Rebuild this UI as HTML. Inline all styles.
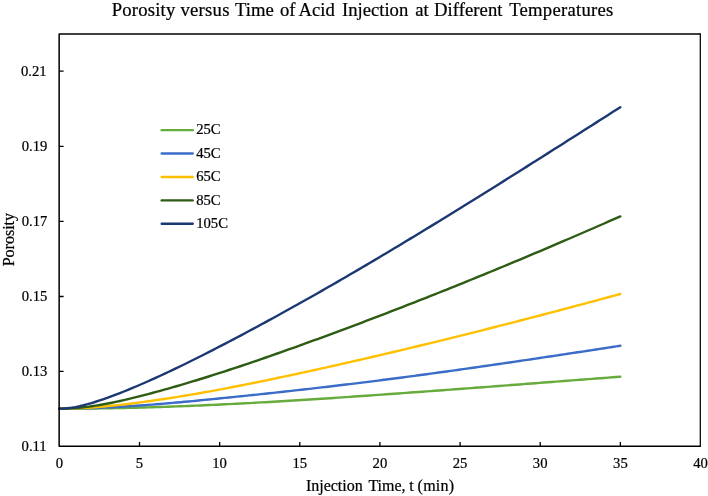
<!DOCTYPE html>
<html><head><meta charset="utf-8"><title>Porosity versus Time of Acid Injection at Different Temperatures</title>
<style>html,body{margin:0;padding:0;background:#fff}svg{display:block}</style></head>
<body>
<svg width="708" height="496" viewBox="0 0 708 496">
<rect width="708" height="496" fill="#fff"/>
<g font-family="&quot;Liberation Serif&quot;, serif" fill="#000" stroke="#000" stroke-width="0.22">
<text y="15.8" font-size="18.67"><tspan x="111.74" letter-spacing="0.2">Porosity</tspan> <tspan x="180.40" letter-spacing="0.28">versus</tspan> <tspan x="234.96">Time</tspan> <tspan x="280.02">of</tspan> <tspan x="298.58">Acid</tspan> <tspan x="341.98">Injection</tspan> <tspan x="415.14">at</tspan> <tspan x="433.93" letter-spacing="0.07">Different</tspan> <tspan x="509.20" letter-spacing="0.26">Temperatures</tspan></text>
<text y="490.9" font-size="16"><tspan x="305.90">Injection</tspan> <tspan x="368.40">Time,</tspan> <tspan x="409.25">t</tspan> <tspan x="417.57" letter-spacing="0.25">(min)</tspan></text>
<text transform="translate(13.5,266.3) rotate(-90)" font-size="16">Porosity</text>
<g font-size="14.67" text-anchor="end">
<text x="46.7" y="75.6">0.21</text>
<text x="47.3" y="151.0">0.19</text>
<text x="47.3" y="225.9">0.17</text>
<text x="47.3" y="301.1">0.15</text>
<text x="47.3" y="376.0">0.13</text>
<text x="46.7" y="450.8">0.11</text>
</g>
<g font-size="14.67" text-anchor="middle">
<text x="59.4" y="467.6">0</text>
<text x="139.5" y="467.6">5</text>
<text x="219.6" y="467.6">10</text>
<text x="299.8" y="467.6">15</text>
<text x="379.9" y="467.6">20</text>
<text x="460.1" y="467.6">25</text>
<text x="540.2" y="467.6">30</text>
<text x="620.4" y="467.6">35</text>
<text x="700.5" y="467.6">40</text>
</g>
<g font-size="14.67">
<text x="196.2" y="134.45">25C</text>
<text x="196.2" y="157.91">45C</text>
<text x="196.2" y="181.37">65C</text>
<text x="196.2" y="204.83">85C</text>
<text x="196.2" y="228.29">105C</text>
</g>
</g>
<g fill="none" stroke-width="2.4" stroke-linecap="round" stroke-linejoin="round">
<path d="M59.4,408.70 L63.4,408.70 L67.4,408.69 L71.5,408.67 L75.5,408.65 L79.5,408.63 L83.6,408.60 L87.6,408.56 L91.6,408.51 L95.7,408.47 L99.7,408.41 L103.7,408.35 L107.8,408.29 L111.8,408.21 L115.8,408.14 L119.9,408.06 L123.9,407.97 L128.0,407.88 L132.0,407.78 L136.0,407.68 L140.1,407.57 L144.1,407.46 L148.1,407.35 L152.2,407.23 L156.2,407.10 L160.2,406.97 L164.3,406.84 L168.3,406.70 L172.3,406.55 L176.4,406.41 L180.4,406.25 L184.5,406.10 L188.5,405.94 L192.5,405.77 L196.6,405.60 L200.6,405.43 L204.6,405.25 L208.7,405.07 L212.7,404.89 L216.7,404.70 L220.8,404.51 L224.8,404.32 L228.8,404.12 L232.9,403.92 L236.9,403.71 L241.0,403.50 L245.0,403.29 L249.0,403.08 L253.1,402.86 L257.1,402.64 L261.1,402.41 L265.2,402.18 L269.2,401.95 L273.2,401.72 L277.3,401.49 L281.3,401.25 L285.3,401.01 L289.4,400.76 L293.4,400.52 L297.5,400.27 L301.5,400.02 L305.5,399.76 L309.6,399.51 L313.6,399.25 L317.6,398.99 L321.7,398.73 L325.7,398.47 L329.7,398.20 L333.8,397.93 L337.8,397.66 L341.8,397.39 L345.9,397.12 L349.9,396.84 L353.9,396.57 L358.0,396.29 L362.0,396.01 L366.1,395.73 L370.1,395.45 L374.1,395.17 L378.2,394.88 L382.2,394.60 L386.2,394.31 L390.3,394.02 L394.3,393.74 L398.3,393.45 L402.4,393.16 L406.4,392.87 L410.4,392.57 L414.5,392.28 L418.5,391.99 L422.6,391.69 L426.6,391.40 L430.6,391.10 L434.7,390.80 L438.7,390.51 L442.7,390.21 L446.8,389.91 L450.8,389.61 L454.8,389.31 L458.9,389.01 L462.9,388.70 L466.9,388.40 L471.0,388.10 L475.0,387.80 L479.1,387.49 L483.1,387.19 L487.1,386.88 L491.2,386.58 L495.2,386.27 L499.2,385.96 L503.3,385.66 L507.3,385.35 L511.3,385.04 L515.4,384.74 L519.4,384.43 L523.4,384.12 L527.5,383.81 L531.5,383.50 L535.6,383.19 L539.6,382.88 L543.6,382.57 L547.7,382.27 L551.7,381.96 L555.7,381.65 L559.8,381.34 L563.8,381.03 L567.8,380.72 L571.9,380.41 L575.9,380.10 L579.9,379.79 L584.0,379.48 L588.0,379.17 L592.1,378.86 L596.1,378.55 L600.1,378.24 L604.2,377.93 L608.2,377.63 L612.2,377.32 L616.3,377.01 L620.3,376.70" stroke="#66AB3C"/>
<path d="M59.4,408.70 L63.4,408.68 L67.4,408.64 L71.5,408.59 L75.5,408.52 L79.5,408.43 L83.6,408.33 L87.6,408.22 L91.6,408.08 L95.7,407.94 L99.7,407.78 L103.7,407.60 L107.8,407.42 L111.8,407.21 L115.8,407.00 L119.9,406.78 L123.9,406.54 L128.0,406.29 L132.0,406.03 L136.0,405.76 L140.1,405.48 L144.1,405.19 L148.1,404.89 L152.2,404.58 L156.2,404.26 L160.2,403.93 L164.3,403.60 L168.3,403.26 L172.3,402.91 L176.4,402.55 L180.4,402.19 L184.5,401.82 L188.5,401.45 L192.5,401.07 L196.6,400.69 L200.6,400.30 L204.6,399.91 L208.7,399.51 L212.7,399.11 L216.7,398.71 L220.8,398.31 L224.8,397.90 L228.8,397.49 L232.9,397.08 L236.9,396.67 L241.0,396.25 L245.0,395.83 L249.0,395.41 L253.1,394.99 L257.1,394.57 L261.1,394.14 L265.2,393.71 L269.2,393.28 L273.2,392.84 L277.3,392.41 L281.3,391.97 L285.3,391.52 L289.4,391.08 L293.4,390.63 L297.5,390.18 L301.5,389.73 L305.5,389.27 L309.6,388.82 L313.6,388.35 L317.6,387.89 L321.7,387.42 L325.7,386.95 L329.7,386.48 L333.8,386.00 L337.8,385.53 L341.8,385.04 L345.9,384.56 L349.9,384.07 L353.9,383.58 L358.0,383.09 L362.0,382.59 L366.1,382.09 L370.1,381.59 L374.1,381.08 L378.2,380.57 L382.2,380.06 L386.2,379.54 L390.3,379.02 L394.3,378.50 L398.3,377.97 L402.4,377.45 L406.4,376.91 L410.4,376.38 L414.5,375.84 L418.5,375.30 L422.6,374.76 L426.6,374.21 L430.6,373.66 L434.7,373.11 L438.7,372.56 L442.7,372.00 L446.8,371.44 L450.8,370.88 L454.8,370.32 L458.9,369.75 L462.9,369.18 L466.9,368.61 L471.0,368.04 L475.0,367.46 L479.1,366.89 L483.1,366.31 L487.1,365.73 L491.2,365.14 L495.2,364.56 L499.2,363.97 L503.3,363.38 L507.3,362.79 L511.3,362.20 L515.4,361.61 L519.4,361.01 L523.4,360.42 L527.5,359.82 L531.5,359.22 L535.6,358.62 L539.6,358.02 L543.6,357.42 L547.7,356.81 L551.7,356.21 L555.7,355.60 L559.8,354.99 L563.8,354.39 L567.8,353.78 L571.9,353.17 L575.9,352.56 L579.9,351.94 L584.0,351.33 L588.0,350.72 L592.1,350.11 L596.1,349.49 L600.1,348.88 L604.2,348.26 L608.2,347.65 L612.2,347.03 L616.3,346.42 L620.3,345.80" stroke="#3B6CC7"/>
<path d="M59.4,408.70 L63.4,408.68 L67.4,408.62 L71.5,408.52 L75.5,408.39 L79.5,408.22 L83.6,408.02 L87.6,407.78 L91.6,407.51 L95.7,407.22 L99.7,406.90 L103.7,406.54 L107.8,406.17 L111.8,405.77 L115.8,405.34 L119.9,404.90 L123.9,404.44 L128.0,403.95 L132.0,403.45 L136.0,402.94 L140.1,402.41 L144.1,401.86 L148.1,401.31 L152.2,400.74 L156.2,400.16 L160.2,399.56 L164.3,398.96 L168.3,398.34 L172.3,397.71 L176.4,397.07 L180.4,396.41 L184.5,395.75 L188.5,395.08 L192.5,394.39 L196.6,393.70 L200.6,392.99 L204.6,392.28 L208.7,391.56 L212.7,390.82 L216.7,390.08 L220.8,389.33 L224.8,388.57 L228.8,387.81 L232.9,387.03 L236.9,386.25 L241.0,385.46 L245.0,384.66 L249.0,383.86 L253.1,383.04 L257.1,382.23 L261.1,381.40 L265.2,380.57 L269.2,379.74 L273.2,378.89 L277.3,378.05 L281.3,377.19 L285.3,376.34 L289.4,375.48 L293.4,374.61 L297.5,373.74 L301.5,372.87 L305.5,371.99 L309.6,371.11 L313.6,370.22 L317.6,369.33 L321.7,368.44 L325.7,367.55 L329.7,366.65 L333.8,365.74 L337.8,364.84 L341.8,363.93 L345.9,363.01 L349.9,362.10 L353.9,361.18 L358.0,360.25 L362.0,359.32 L366.1,358.39 L370.1,357.46 L374.1,356.52 L378.2,355.58 L382.2,354.64 L386.2,353.69 L390.3,352.74 L394.3,351.79 L398.3,350.83 L402.4,349.87 L406.4,348.91 L410.4,347.94 L414.5,346.97 L418.5,346.00 L422.6,345.02 L426.6,344.05 L430.6,343.07 L434.7,342.08 L438.7,341.09 L442.7,340.10 L446.8,339.11 L450.8,338.11 L454.8,337.12 L458.9,336.11 L462.9,335.11 L466.9,334.10 L471.0,333.09 L475.0,332.08 L479.1,331.06 L483.1,330.05 L487.1,329.03 L491.2,328.00 L495.2,326.98 L499.2,325.95 L503.3,324.92 L507.3,323.88 L511.3,322.85 L515.4,321.81 L519.4,320.77 L523.4,319.72 L527.5,318.68 L531.5,317.63 L535.6,316.58 L539.6,315.52 L543.6,314.47 L547.7,313.41 L551.7,312.35 L555.7,311.29 L559.8,310.22 L563.8,309.16 L567.8,308.09 L571.9,307.02 L575.9,305.94 L579.9,304.87 L584.0,303.79 L588.0,302.71 L592.1,301.63 L596.1,300.54 L600.1,299.46 L604.2,298.37 L608.2,297.28 L612.2,296.19 L616.3,295.09 L620.3,294.00" stroke="#FFC000"/>
<path d="M59.4,408.70 L63.4,408.66 L67.4,408.55 L71.5,408.35 L75.5,408.07 L79.5,407.72 L83.6,407.30 L87.6,406.82 L91.6,406.27 L95.7,405.66 L99.7,405.00 L103.7,404.29 L107.8,403.53 L111.8,402.72 L115.8,401.87 L119.9,400.99 L123.9,400.07 L128.0,399.12 L132.0,398.14 L136.0,397.14 L140.1,396.12 L144.1,395.09 L148.1,394.04 L152.2,392.97 L156.2,391.88 L160.2,390.79 L164.3,389.67 L168.3,388.54 L172.3,387.40 L176.4,386.24 L180.4,385.07 L184.5,383.88 L188.5,382.68 L192.5,381.47 L196.6,380.24 L200.6,379.00 L204.6,377.75 L208.7,376.49 L212.7,375.22 L216.7,373.93 L220.8,372.64 L224.8,371.33 L228.8,370.01 L232.9,368.68 L236.9,367.35 L241.0,366.00 L245.0,364.64 L249.0,363.28 L253.1,361.91 L257.1,360.52 L261.1,359.14 L265.2,357.74 L269.2,356.33 L273.2,354.92 L277.3,353.50 L281.3,352.08 L285.3,350.65 L289.4,349.21 L293.4,347.77 L297.5,346.32 L301.5,344.87 L305.5,343.41 L309.6,341.95 L313.6,340.48 L317.6,339.01 L321.7,337.53 L325.7,336.05 L329.7,334.56 L333.8,333.07 L337.8,331.58 L341.8,330.08 L345.9,328.57 L349.9,327.06 L353.9,325.55 L358.0,324.03 L362.0,322.51 L366.1,320.98 L370.1,319.45 L374.1,317.91 L378.2,316.37 L382.2,314.83 L386.2,313.28 L390.3,311.72 L394.3,310.17 L398.3,308.60 L402.4,307.04 L406.4,305.46 L410.4,303.89 L414.5,302.31 L418.5,300.72 L422.6,299.13 L426.6,297.54 L430.6,295.94 L434.7,294.34 L438.7,292.74 L442.7,291.13 L446.8,289.51 L450.8,287.90 L454.8,286.27 L458.9,284.65 L462.9,283.02 L466.9,281.38 L471.0,279.74 L475.0,278.10 L479.1,276.45 L483.1,274.80 L487.1,273.15 L491.2,271.49 L495.2,269.83 L499.2,268.16 L503.3,266.49 L507.3,264.81 L511.3,263.13 L515.4,261.45 L519.4,259.77 L523.4,258.08 L527.5,256.38 L531.5,254.68 L535.6,252.98 L539.6,251.28 L543.6,249.57 L547.7,247.85 L551.7,246.14 L555.7,244.42 L559.8,242.69 L563.8,240.97 L567.8,239.23 L571.9,237.50 L575.9,235.76 L579.9,234.02 L584.0,232.27 L588.0,230.52 L592.1,228.77 L596.1,227.01 L600.1,225.25 L604.2,223.49 L608.2,221.72 L612.2,219.95 L616.3,218.18 L620.3,216.40" stroke="#2F5C14"/>
<path d="M59.4,408.70 L63.4,408.57 L67.4,408.25 L71.5,407.74 L75.5,407.07 L79.5,406.24 L83.6,405.28 L87.6,404.21 L91.6,403.03 L95.7,401.77 L99.7,400.45 L103.7,399.07 L107.8,397.64 L111.8,396.17 L115.8,394.65 L119.9,393.09 L123.9,391.49 L128.0,389.85 L132.0,388.19 L136.0,386.49 L140.1,384.76 L144.1,383.01 L148.1,381.23 L152.2,379.43 L156.2,377.61 L160.2,375.76 L164.3,373.89 L168.3,372.01 L172.3,370.10 L176.4,368.17 L180.4,366.22 L184.5,364.26 L188.5,362.28 L192.5,360.28 L196.6,358.27 L200.6,356.25 L204.6,354.21 L208.7,352.16 L212.7,350.09 L216.7,348.02 L220.8,345.93 L224.8,343.83 L228.8,341.73 L232.9,339.62 L236.9,337.49 L241.0,335.36 L245.0,333.21 L249.0,331.06 L253.1,328.90 L257.1,326.73 L261.1,324.55 L265.2,322.37 L269.2,320.17 L273.2,317.97 L277.3,315.75 L281.3,313.53 L285.3,311.30 L289.4,309.06 L293.4,306.82 L297.5,304.56 L301.5,302.30 L305.5,300.03 L309.6,297.75 L313.6,295.47 L317.6,293.18 L321.7,290.88 L325.7,288.57 L329.7,286.26 L333.8,283.94 L337.8,281.61 L341.8,279.27 L345.9,276.93 L349.9,274.58 L353.9,272.23 L358.0,269.87 L362.0,267.50 L366.1,265.12 L370.1,262.74 L374.1,260.36 L378.2,257.97 L382.2,255.57 L386.2,253.16 L390.3,250.75 L394.3,248.34 L398.3,245.92 L402.4,243.49 L406.4,241.06 L410.4,238.62 L414.5,236.18 L418.5,233.73 L422.6,231.28 L426.6,228.83 L430.6,226.36 L434.7,223.90 L438.7,221.43 L442.7,218.95 L446.8,216.47 L450.8,213.99 L454.8,211.50 L458.9,209.01 L462.9,206.52 L466.9,204.02 L471.0,201.52 L475.0,199.01 L479.1,196.50 L483.1,193.99 L487.1,191.47 L491.2,188.95 L495.2,186.43 L499.2,183.90 L503.3,181.37 L507.3,178.84 L511.3,176.30 L515.4,173.77 L519.4,171.23 L523.4,168.69 L527.5,166.14 L531.5,163.59 L535.6,161.05 L539.6,158.49 L543.6,155.94 L547.7,153.39 L551.7,150.83 L555.7,148.27 L559.8,145.71 L563.8,143.15 L567.8,140.59 L571.9,138.03 L575.9,135.46 L579.9,132.89 L584.0,130.33 L588.0,127.76 L592.1,125.19 L596.1,122.62 L600.1,120.05 L604.2,117.48 L608.2,114.91 L612.2,112.34 L616.3,109.77 L620.3,107.20" stroke="#1B3873"/>
<path d="M161.7,130.15 H192.7" stroke="#66AB3C"/>
<path d="M161.7,153.56 H192.7" stroke="#3B6CC7"/>
<path d="M161.7,176.97 H192.7" stroke="#FFC000"/>
<path d="M161.7,200.38 H192.7" stroke="#2F5C14"/>
<path d="M161.7,223.79 H192.7" stroke="#1B3873"/>
</g>
<g fill="none" stroke="#000" stroke-linejoin="round">
<path d="M700.3,33.95H59.15V446.15H700.3" stroke-width="1.5"/>
<path d="M700.3,33.2V446.9" stroke-width="1.25"/>
<path d="M59.15,371.42H63.6M59.15,296.49H63.6M59.15,221.34H63.6M59.15,146.42H63.6M59.15,71.05H63.6M139.50,446.15V442.1M219.64,446.15V442.1M299.79,446.15V442.1M379.93,446.15V442.1M460.08,446.15V442.1M540.22,446.15V442.1M620.37,446.15V442.1" stroke-width="1.3"/>
</g>
</svg>
</body></html>
